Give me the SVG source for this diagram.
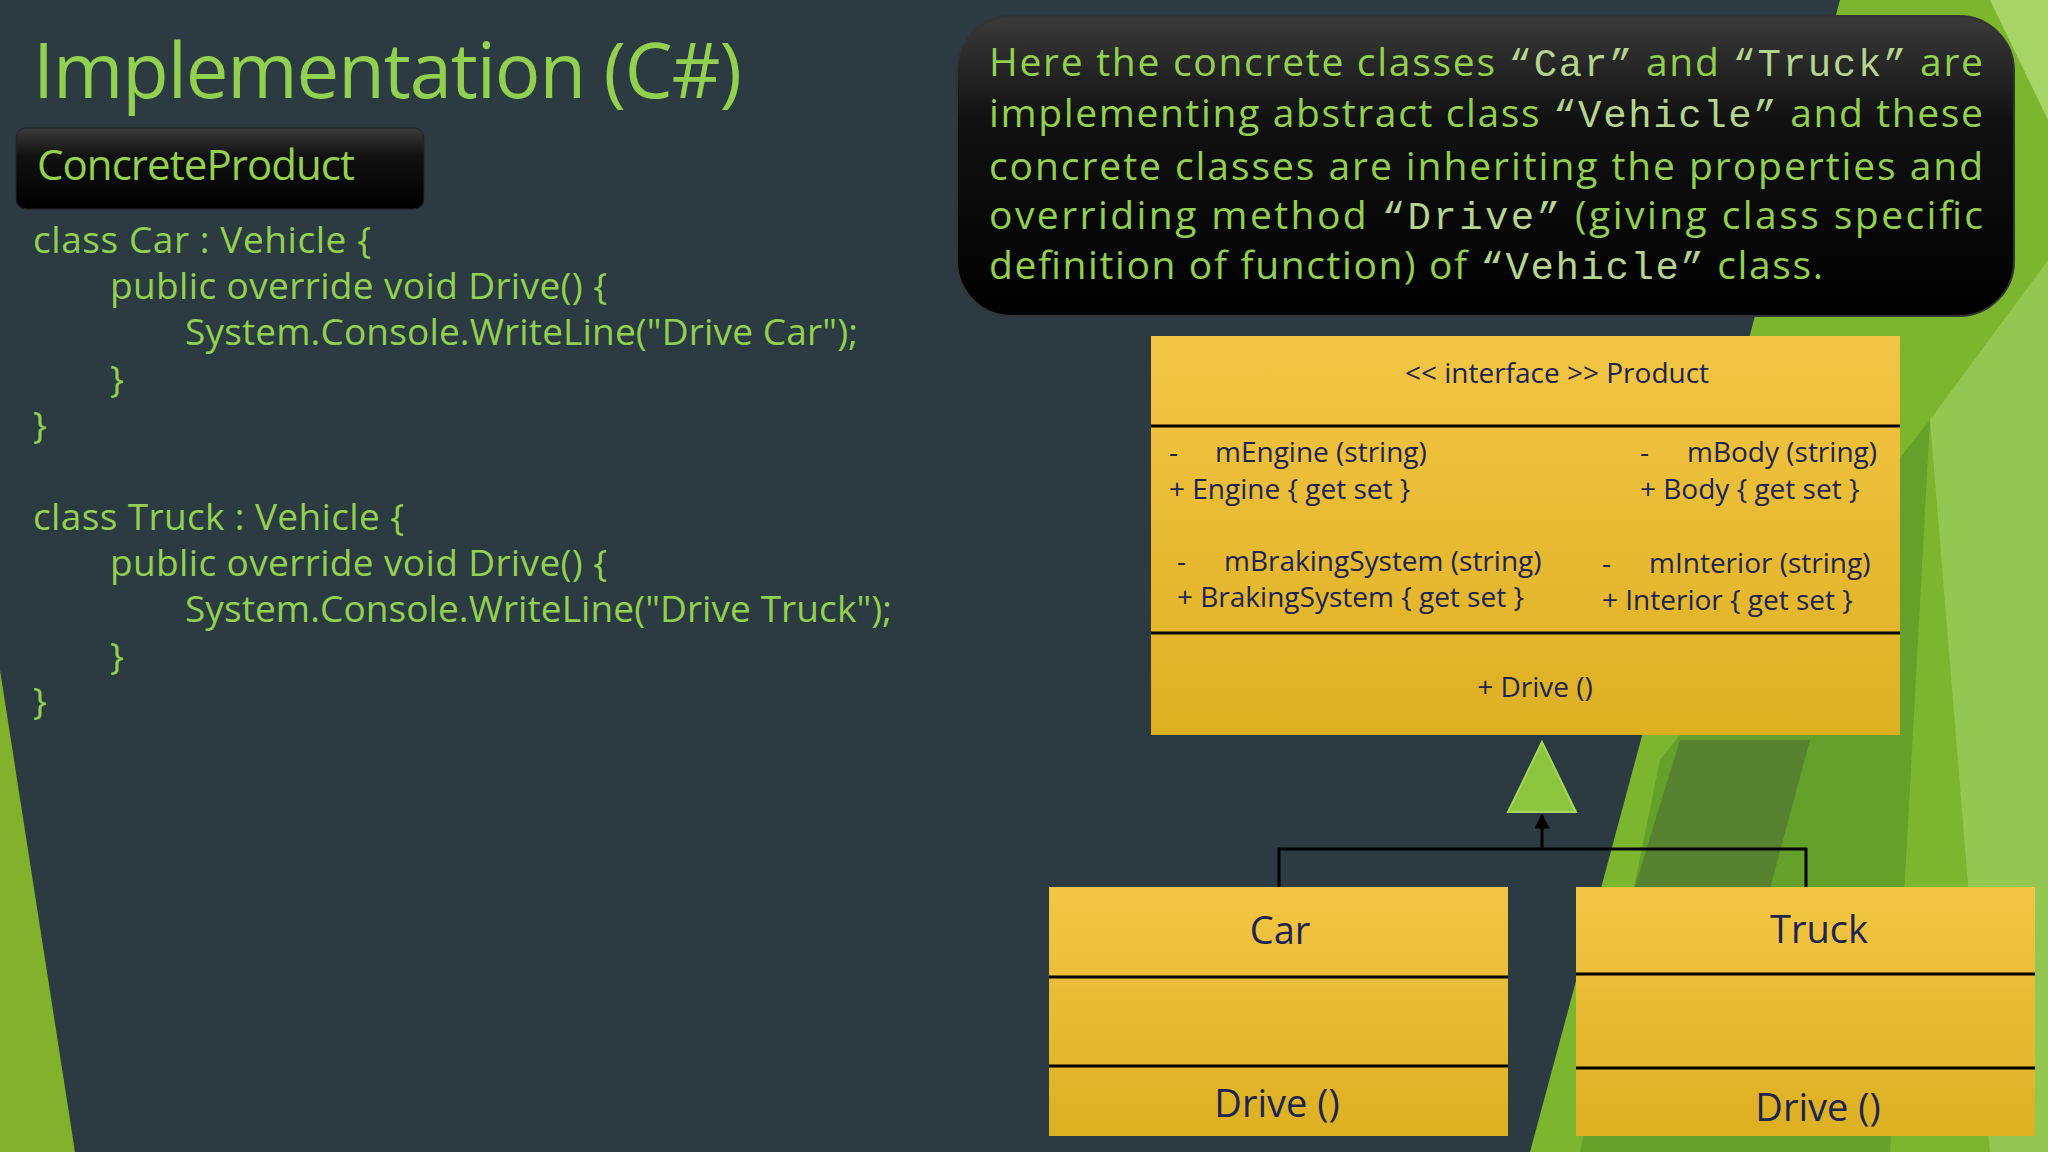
<svg xmlns="http://www.w3.org/2000/svg" width="2048" height="1152" viewBox="0 0 2048 1152">
<defs>
<linearGradient id="yel" x1="0" y1="0" x2="0" y2="1"><stop offset="0" stop-color="#F3C545"/><stop offset="1" stop-color="#DDB022"/></linearGradient>
<linearGradient id="blk" x1="0" y1="0" x2="0" y2="1"><stop offset="0" stop-color="#3a3a3a"/><stop offset="0.35" stop-color="#111"/><stop offset="1" stop-color="#000"/></linearGradient>
<marker id="ah" viewBox="0 0 10 10" refX="9" refY="5" markerWidth="5" markerHeight="5" orient="auto"><path d="M0,0L10,5L0,10z" fill="#000"/></marker>
<style>
.g{fill:#92D050;font-family:"Open Sans","Liberation Sans",sans-serif}
.code{font-size:37px}
.b{fill:#1B2550;font-family:"Open Sans","Liberation Sans",sans-serif;font-size:28px}
.big{font-size:38px}
.box{fill:url(#yel)}
.div{stroke:#000;stroke-width:3}
.m{font-family:"Liberation Mono",monospace;fill:#B5D58F;font-weight:normal}
</style>
</defs>
<rect width="2048" height="1152" fill="#2C3A42"/>
<polygon points="0,670 0,1152 75,1152" fill="#84B12C"/>
<polygon points="1840,0 2048,0 2048,1152 1530,1152" fill="#7CB52E"/>
<polygon points="1660,760 1930,420 1890,1152 1580,1152" fill="#64A02A"/>
<polygon points="1930,420 2048,260 2048,1152 1990,1152" fill="#93C752"/>
<polygon points="1990,0 2048,0 2048,120" fill="#A6D466"/>
<polygon points="1680,740 1810,740 1740,1000 1600,1000" fill="#4E6E34" opacity="0.6"/>

<text class="g" x="33" y="98" font-size="76" textLength="709">Implementation (C#)</text>
<g id="concreteproduct">
<rect x="16" y="128" width="408" height="81" rx="10" fill="url(#blk)" stroke="#222"/>
<text class="g" x="37" y="180" font-size="42" textLength="318">ConcreteProduct</text>
</g>
<g id="code" class="g code">
<text x="33" y="253" textLength="338">class Car : Vehicle {</text>
<text x="110" y="299" textLength="497">public override void Drive() {</text>
<text x="185" y="345" textLength="673">System.Console.WriteLine("Drive Car");</text>
<text x="110" y="392">}</text>
<text x="33" y="438">}</text>
<text x="33" y="530" textLength="371">class Truck : Vehicle {</text>
<text x="110" y="576" textLength="497">public override void Drive() {</text>
<text x="185" y="622" textLength="707">System.Console.WriteLine("Drive Truck");</text>
<text x="110" y="669">}</text>
<text x="33" y="714">}</text>
</g>
<g id="note">
<rect x="957" y="16" width="1057" height="300" rx="55" fill="url(#blk)" stroke="#333" stroke-width="2"/>
<g class="g" font-size="39">
<text x="989" y="76" textLength="994">Here the concrete classes <tspan class="m">“Car”</tspan> and <tspan class="m">“Truck”</tspan> are</text>
<text x="989" y="127" textLength="994">implementing abstract class <tspan class="m">“Vehicle”</tspan> and these</text>
<text x="989" y="180" textLength="994">concrete classes are inheriting the properties and</text>
<text x="989" y="229" textLength="994">overriding method <tspan class="m">“Drive”</tspan> (giving class specific</text>
<text x="989" y="279" textLength="834">definition of function) of <tspan class="m">“Vehicle”</tspan> class.</text>
</g>
</g>
<g id="product">
<rect class="box" x="1151" y="336" width="749" height="399"/>
<line class="div" x1="1151" y1="426" x2="1900" y2="426"/>
<line class="div" x1="1151" y1="633" x2="1900" y2="633"/>
<text class="b" x="1557" y="383" text-anchor="middle">&lt;&lt; interface &gt;&gt; Product</text>
<text class="b" x="1169" y="462">-</text><text class="b" x="1215" y="462">mEngine (string)</text>
<text class="b" x="1169" y="499">+ Engine { get set }</text>
<text class="b" x="1640" y="462">-</text><text class="b" x="1687" y="462">mBody (string)</text>
<text class="b" x="1640" y="499">+ Body { get set }</text>
<text class="b" x="1177" y="571">-</text><text class="b" x="1224" y="571">mBrakingSystem (string)</text>
<text class="b" x="1177" y="607">+ BrakingSystem { get set }</text>
<text class="b" x="1602" y="573">-</text><text class="b" x="1649" y="573">mInterior (string)</text>
<text class="b" x="1602" y="610">+ Interior { get set }</text>
<text class="b" x="1535" y="697" text-anchor="middle">+ Drive ()</text>
</g>
<g id="connectors" fill="none" stroke="#000" stroke-width="3">
<polyline points="1279,887 1279,849 1806,849 1806,887"/>
<line x1="1542" y1="849" x2="1542" y2="815" marker-end="url(#ah)"/>
<polygon points="1542,742 1508,812 1576,812" fill="#8CC63F" stroke="#A5D65A" stroke-width="2"/>
</g>
<g id="car">
<rect class="box" x="1049" y="887" width="459" height="249"/>
<line class="div" x1="1049" y1="977" x2="1508" y2="977"/>
<line class="div" x1="1049" y1="1066" x2="1508" y2="1066"/>
<text class="b big" x="1280" y="944" text-anchor="middle">Car</text>
<text class="b big" x="1277" y="1117" text-anchor="middle">Drive ()</text>
</g>
<g id="truck">
<rect class="box" x="1576" y="887" width="459" height="249"/>
<line class="div" x1="1576" y1="974" x2="2035" y2="974"/>
<line class="div" x1="1576" y1="1068" x2="2035" y2="1068"/>
<text class="b big" x="1819" y="943" text-anchor="middle">Truck</text>
<text class="b big" x="1818" y="1121" text-anchor="middle">Drive ()</text>
</g>
</svg>
